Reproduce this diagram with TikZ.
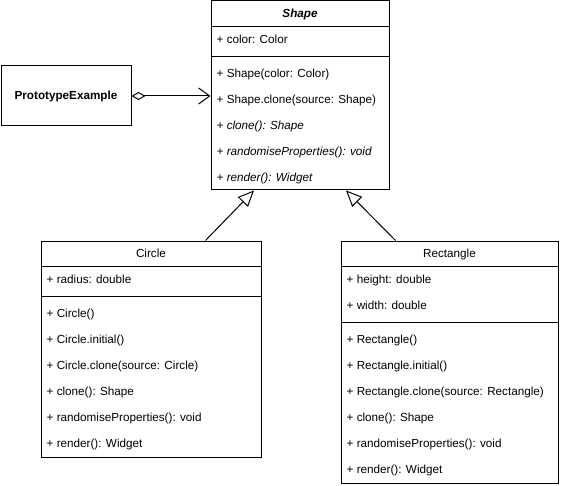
\documentclass[tikz,border=0pt]{standalone}
\usepackage{fontspec}
\setmainfont{Liberation Sans}
\usetikzlibrary{%
  arrows.meta,%
  calc%
}
\newcommand{\umlfont}{\fontsize{11.7}{14}\selectfont}
\tikzset{%
  classbox/.style={draw,line width=1pt,inner sep=0pt,anchor=north west},
  member/.style={anchor=west,inner sep=0pt,text height=10pt,text depth=2pt,font=\umlfont},
  title/.style={inner sep=0pt,text height=10pt,text depth=2pt,font=\umlfont},
  sepline/.style={line width=1pt},
  inherit/.style={line width=1pt,-{Triangle[open,length=16pt,width=14pt]}},
  aggr/.style={line width=1pt,{Diamond[open,length=14pt,width=8pt]}-{Straight Barb[length=11pt,width=16pt]}}
}

\begin{document}
\begin{tikzpicture}[x=1pt,y=-1pt]
    \useasboundingbox (0,0) rectangle (561,486);
    % class boxes
    \node[classbox,minimum width=178pt,minimum height=189pt] (shape) at (210.5,0.5) {};
    \node[classbox,minimum width=130pt,minimum height=60pt,font=\umlfont\bfseries] (proto) at (0.5,65.5) {PrototypeExample};
    \node[classbox,minimum width=220pt,minimum height=216pt] (circle) at (40.5,240.5) {};
    \node[classbox,minimum width=217pt,minimum height=242pt] (rect) at (340.5,240.5) {};
    % Shape
    \node[title,font=\umlfont\bfseries\itshape] (shapeTitle) at ($(shape.north)+(0,13)$) {Shape};
    \draw[sepline] ($(shape.north west)+(0,26)$) -- ($(shape.north east)+(0,26)$);
    \node[member] (shapeA1) at ($(shape.north west)+(6,39)$) {+ color: Color};
    \draw[sepline] ($(shape.north west)+(0,56)$) -- ($(shape.north east)+(0,56)$);
    \foreach \txt [count=\i] in {+ Shape(color: Color), + Shape.clone(source: Shape),
      \textit{+ clone(): Shape}, \textit{+ randomiseProperties(): void}, \textit{+ render(): Widget}}
      \node[member] (shapeM\i) at ($(shape.north west)+(6,47+26*\i)$) {\txt};
    % Circle
    \node[title] (circleTitle) at ($(circle.north)+(0,13)$) {Circle};
    \draw[sepline] ($(circle.north west)+(0,26)$) -- ($(circle.north east)+(0,26)$);
    \node[member] (circleA1) at ($(circle.north west)+(6,39)$) {+ radius: double};
    \draw[sepline] ($(circle.north west)+(0,56)$) -- ($(circle.north east)+(0,56)$);
    \foreach \txt [count=\i] in {+ Circle(), + Circle.initial(), + Circle.clone(source: Circle),
      + clone(): Shape, + randomiseProperties(): void, + render(): Widget}
      \node[member] (circleM\i) at ($(circle.north west)+(6,46.5+26*\i)$) {\txt};
    % Rectangle
    \node[title] (rectTitle) at ($(rect.north)+(0,13)$) {Rectangle};
    \draw[sepline] ($(rect.north west)+(0,26)$) -- ($(rect.north east)+(0,26)$);
    \node[member] (rectA1) at ($(rect.north west)+(6,39)$) {+ height: double};
    \node[member] (rectA2) at ($(rect.north west)+(6,65)$) {+ width: double};
    \draw[sepline] ($(rect.north west)+(0,82)$) -- ($(rect.north east)+(0,82)$);
    \foreach \txt [count=\i] in {+ Rectangle(), + Rectangle.initial(), + Rectangle.clone(source: Rectangle),
      + clone(): Shape, + randomiseProperties(): void, + render(): Widget}
      \node[member] (rectM\i) at ($(rect.north west)+(6,72.5+26*\i)$) {\txt};
    % relations
    \draw[aggr] (proto.east) -- (proto.east -| shape.west);
    \draw[inherit] ([xshift=54.5pt]circle.north) -- ([xshift=-46pt]shape.south);
    \draw[inherit] ([xshift=-54pt]rect.north) -- ([xshift=46pt]shape.south);
\end{tikzpicture}
\end{document}
